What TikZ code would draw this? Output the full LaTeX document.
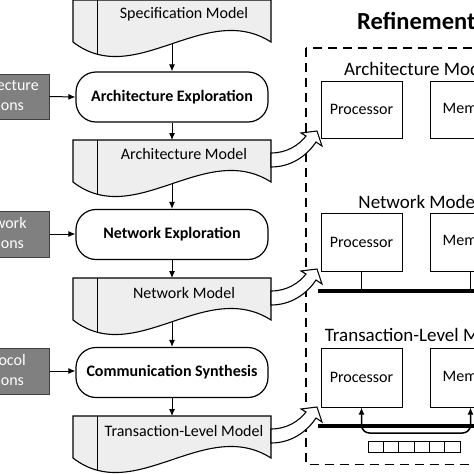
\documentclass[tikz,border=0pt]{standalone}
\usepackage{fontspec}
\setmainfont{Carlito}
\usetikzlibrary{arrows.meta}
\definecolor{docfill}{HTML}{EEEEEE}
\definecolor{optfill}{HTML}{808080}
\definecolor{optdraw}{HTML}{404040}
\begin{document}
\begin{tikzpicture}[x=1pt,y=-1pt,
  docshape/.style={draw=black,fill=docfill,line width=1.1pt},
  docline/.style={draw=black,line width=1pt},
  doctext/.style={font=\fontsize{16}{18}\selectfont,inner sep=0pt},
  explore/.style={draw=black,fill=white,line width=1.2pt,rounded corners=20pt,
    minimum width=192pt,minimum height=50pt,font=\bfseries\fontsize{16}{18}\selectfont},
  optbox/.style={draw=optdraw,fill=optfill,line width=1pt,minimum width=101pt,
    text=white,align=center,font=\fontsize{16}{20}\selectfont},
  arr/.style={draw=black,line width=1pt,-{Latex[length=7pt,width=6pt]}},
  hollow/.style={draw=black,fill=white,line width=1.1pt,line join=miter},
  frame/.style={draw=black,line width=1.2pt,dash pattern=on 9pt off 6pt},
  lbl/.style={font=\fontsize{19}{21}\selectfont,inner sep=0pt},
  hwbox/.style={draw=black,fill=white,line width=1pt,minimum width=81pt,font=\fontsize{16}{18}\selectfont},
  bus/.style={draw=black,line width=3.5pt},
  stub/.style={draw=black,line width=1pt},
  tlmarr/.style={draw=black,line width=1.5pt,rounded corners=8pt,
    {Latex[length=7pt,width=6pt]}-{Latex[length=7pt,width=6pt]}},
  qbox/.style={draw=black,line width=0.8pt}
]
\useasboundingbox (0,0) rectangle (474,474);
\clip (0,0) rectangle (474,474);

% ---------------- right panel (frame first) ----------------
\node[font=\bfseries\fontsize{24.5}{28}\selectfont,anchor=base west,inner sep=0pt] (ref) at (357,29) {Refinement};
\draw[frame] (306,48) rectangle (580,464.5);

% Architecture model
\node[lbl] (aml) at (419,69) {Architecture Model};
\node[hwbox,minimum height=57pt] (p1) at (361.5,109.5) {Processor};
\node[hwbox,minimum height=57pt] (m1) at (470.5,109.5) {Memory};

% Network model
\node[lbl] (nml) at (419,202) {Network Model};
\node[hwbox,minimum height=58pt] (p2) at (361.5,242) {Processor};
\node[hwbox,minimum height=58pt] (m2) at (470.5,242) {Memory};
\coordinate (b2s) at (318,291);
\coordinate (b2e) at (580,291);
\draw[bus] (b2s) -- (b2e);
\draw[stub] (p2.south) -- (p2.south |- b2s);
\draw[stub] (m2.south) -- (m2.south |- b2s);

% Transaction-level model
\node[lbl] (tml) at (419,335) {Transaction-Level Model};
\node[hwbox,minimum height=59pt] (p3) at (361.5,377.5) {Processor};
\node[hwbox,minimum height=59pt] (m3) at (470.5,377.5) {Memory};
\coordinate (b3s) at (318,426);
\coordinate (b3e) at (580,426);
\draw[bus] (b3s) -- (b3e);
\coordinate (qc) at (470.5,433);
\draw[tlmarr] (p3.south) |- (qc) -- (m3.south);
\foreach \i in {0,...,5}{
  \draw[qbox] ({368+\i*15.33},441) rectangle ++(15.33,11.5);
}

% ---------------- left flow ----------------
\newcommand\docat[3]{%
  \begin{scope}[shift={(0,#1)}]
    \draw[docshape] (73,0) -- (271,0) -- (271,42) .. controls (205,0) and (135,90) .. (73,42) -- cycle;
    \draw[docline] (97,0) -- (97,54);
    \node[doctext] (#2) at (184,14.5) {#3};
  \end{scope}}
\newcommand\refarrow[1]{%
  \begin{scope}[shift={(0,#1)}]
    \draw[hollow] (271,13) .. controls (287,13) and (299,5) .. (306,-4) -- (301,-7) -- (317,-9)
      -- (322,6) -- (316,2) .. controls (306,17) and (290,27) .. (271,27) -- cycle;
  \end{scope}}

\docat{0}{spec}{Specification Model}
\docat{140}{archm}{Architecture Model}
\docat{278}{netm}{Network Model}
\docat{416}{tlm}{Transaction-Level Model}
\refarrow{140}
\refarrow{278}
\refarrow{416}

\coordinate (specb) at (172,44);
\coordinate (archt) at (172,140);
\coordinate (archb) at (172,184);
\coordinate (nett) at (172,278);
\coordinate (netb) at (172,322);
\coordinate (tlmt) at (172,416);

\node[explore] (ae) at (172,97) {Architecture Exploration};
\node[explore] (ne) at (172,234.5) {Network Exploration};
\node[explore] (cs) at (172,372.5) {Communication Synthesis};

\draw[arr] (specb) -- (ae.north);
\draw[arr] (ae.south) -- (archt);
\draw[arr] (archb) -- (ne.north);
\draw[arr] (ne.south) -- (nett);
\draw[arr] (netb) -- (cs.north);
\draw[arr] (cs.south) -- (tlmt);

\node[optbox,minimum height=45pt] (ao) at (-1.5,96.5) {Architecture\\Options};
\node[optbox,minimum height=46pt] (no) at (-1.5,234) {Network\\Options};
\node[optbox,minimum height=46pt] (po) at (-1.5,371) {Protocol\\Options};

\draw[arr] (ao.east) -- (ae.west);
\draw[arr] (no.east) -- (no.east -| ne.west);
\draw[arr] (po.east) -- (po.east -| cs.west);
\end{tikzpicture}
\end{document}
